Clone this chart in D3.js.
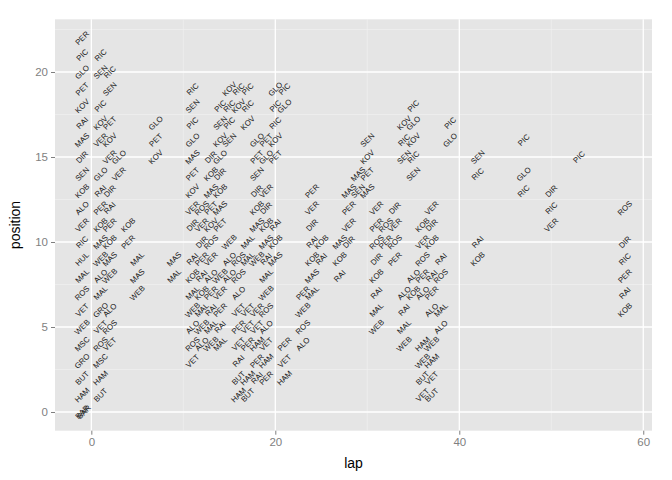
<!DOCTYPE html>
<html><head><meta charset="utf-8">
<script src="https://cdn.jsdelivr.net/npm/d3@7"></script>
<style>body{margin:0;background:#fff}svg{display:block}</style>
</head><body><svg id="c" width="672" height="480"></svg>
<script>
// driver code, lap, position
const driver = [
 "PER","PIC","GLO","PET","KOV","RAI","MAS","DIR","SEN","KOB","ALO","VER","RIC","HUL","MAL","ROS","VET","WEB","MSC","GRO","BUT","HAM","BAR","BAR",
 "RIC","SEN","PIC","KOV","VER","GLO","RAI","PER","KOB","MAS","WEB","ALO","MAL","GRO","VET","ROS","MSC","HAM","BUT",
 "RIC","SEN","PET","KOV","VER","DIR","RAI","PER","KOB","MAS","WEB","ALO","ROS","VET",
 "GLO","VER","KOB","PER","MAL","MAS","WEB","GLO","PET","KOV","MAS","MAL",
 "RIC","SEN","PIC","GLO","MAS","PET","KOV","VER","DIR","RAI","KOB","MAL","WEB","ALO","ROS","VET",
 "ROS","VER","DIR","PER","RAI","KOB","MAL","WEB","ALO",
 "DIR","KOB","MAS","PET","KOV","ROS","VER","ALO","PER","RAI","MAL","WEB",
 "PIC","SEN","KOV","GLO","DIR","KOB","MAS","PET","WEB","VER","PER","RAI","MAL",
 "KOV","RIC","PIC","SEN","WEB","ALO","ALO",
 "RIC","KOV","ROS","ROS","ALO","VET","PER","VET","RAI","BUT","HAM",
 "PIC","RIC","KOV","MAL","MAL","VET","VET","PER","HAM","BUT",
 "GLO","PET","SEN","DIR","KOB","MAS","WEB","VER","VET","HAM","PER","RAI",
 "PET","GLO","VER","DIR","KOB","MAS","RAI","MAL","WEB","ROS","ALO","VET","HAM","PER",
 "GLO","PIC","RIC","KOV","PET","RAI","KOB","MAS",
 "PIC","GLO","PER","VET","HAM",
 "PER","WEB","ROS","ALO",
 "PER","VER","DIR","RAI","KOB","MAS","MAL",
 "KOB","RAI",
 "MAS","KOB","RAI",
 "MAS","PER","VER","DIR",
 "MAS","SEN",
 "SEN","KOV","PET","MAS",
 "VER","PER","ROS","DIR","KOB","RAI","MAL","WEB",
 "ROS","PER",
 "DIR","VER","ROS","PER",
 "KOV","RIC","SEN","ALO","RAI","MAL","WEB",
 "PIC","GLO","KOV","RIC","SEN","ALO","KOB",
 "KOB","VER","ROS","PER","ALO","HAM","WEB","BUT","VET",
 "VER","DIR","KOB","RAI","PER","ALO","WEB","HAM","VET","BUT",
 "RAI","ROS","MAL","ALO",
 "PIC","GLO",
 "SEN","RIC","RAI","KOB",
 "PIC","GLO","RIC",
 "DIR","RIC","VER",
 "PIC",
 "ROS","DIR","RIC","PER","RAI","KOB"
];
const lap = [
 -1,-1,-1,-1,-1,-1,-1,-1,-1,-1,-1,-1,-1,-1,-1,-1,-1,-1,-1,-1,-1,-1,-1,-0.8,
 1,1,1,1,1,1,1,1,1,1,1,1,1,1,1,1,1,1,1,
 2,2,2,2,2,2,2,2,2,2,2,2,2,2,
 3,3,4,4,5,5,5,7,7,7,9,9,
 11,11,11,11,11,11,11,11,11,11,11,11,11,11,11,11,
 12,12,12,12,12,12,12,12,12,
 13,13,13,13,13,13,13,13,13,13,13,13,
 14,14,14,14,14,14,14,14,14,14,14,14,14,
 15,15,15,15,15,15,15,
 16,16,16,16,16,16,16,16,16,16,16,
 17,17,17,17,17,17,17,17,17,17,
 18,18,18,18,18,18,18,18,18,18,18,18,
 19,19,19,19,19,19,19,19,19,19,19,19,19,19,
 20,20,20,20,20,20,20,20,
 21,21,21,21,21,
 23,23,23,23,
 24,24,24,24,24,24,24,
 25,25,
 27,27,27,
 28,28,28,28,
 29,29,
 30,30,30,30,
 31,31,31,31,31,31,31,31,
 32,32,
 33,33,33,33,
 34,34,34,34,34,34,34,
 35,35,35,35,35,35,35,
 36,36,36,36,36,36,36,36,36,
 37,37,37,37,37,37,37,37,37,37,
 38,38,38,38,
 39,39,
 42,42,42,42,
 47,47,47,
 50,50,50,
 53,
 58,58,58,58,58,58
];
const position = [
 22,21,20,19,18,17,16,15,14,13,12,11,10,9,8,7,6,5,4,3,2,1,0,0,
 21,20,18,17,16,14,13,12,11,10,9,8,7,6,5,4,3,2,1,
 20,19,17,16,15,13,12,11,10,9,8,6,5,4,
 15,14,11,10,9,8,7,17,16,15,9,8,
 19,18,17,16,15,14,13,12,11,9,8,7,6,5,4,3,
 12,11,10,9,8,7,6,5,4,
 15,14,13,12,11,10,9,8,7,6,5,4,
 18,17,16,15,14,13,12,11,8,7,6,5,4,
 19,18,17,16,10,9,8,
 19,18,9,8,7,6,5,4,3,2,1,
 19,18,17,10,9,6,5,4,2,1,
 16,15,14,13,12,11,9,6,5,4,3,2,
 16,15,13,12,11,10,9,8,7,6,5,4,3,2,
 19,18,17,16,15,11,10,9,
 19,18,4,3,2,
 7,6,5,4,
 13,12,11,10,9,8,7,
 10,9,
 10,9,8,
 13,12,11,10,
 14,13,
 16,15,14,13,
 12,11,10,9,8,7,6,5,
 11,10,
 12,11,10,9,
 17,16,15,7,6,5,4,
 18,17,16,15,14,8,7,
 11,10,9,8,7,4,3,2,1,
 12,11,10,8,7,6,4,3,2,1,
 9,8,6,5,
 17,16,
 15,14,10,9,
 16,14,13,
 13,12,11,
 15,
 12,10,9,8,7,6
];
const xTicks = [0, 20, 40, 60];
const yTicks = [0, 5, 10, 15, 20];
const xMinor = [10, 30, 50];
const yMinor = [2.5, 7.5, 12.5, 17.5, 22.5];

const svg = d3.select("#c");
const L = 55, R = 652, T = 19.3, B = 430.7;
const x = d3.scaleLinear().domain([-3.95, 60.95]).range([L, R]);
const y = d3.scaleLinear().domain([-1.1, 23.1]).range([B, T]);

svg.append("rect").attr("x", L).attr("y", T).attr("width", R - L).attr("height", B - T).attr("fill", "#E5E5E5");
const g = svg.append("g");
g.selectAll(".vm").data(xMinor).join("line").attr("x1", d => x(d)).attr("x2", d => x(d)).attr("y1", T).attr("y2", B).attr("stroke", "#F2F2F2").attr("stroke-width", 0.6);
g.selectAll(".hm").data(yMinor).join("line").attr("y1", d => y(d)).attr("y2", d => y(d)).attr("x1", L).attr("x2", R).attr("stroke", "#F2F2F2").attr("stroke-width", 0.6);
g.selectAll(".vM").data(xTicks).join("line").attr("x1", d => x(d)).attr("x2", d => x(d)).attr("y1", T).attr("y2", B).attr("stroke", "#fff").attr("stroke-width", 1.3);
g.selectAll(".hM").data(yTicks).join("line").attr("y1", d => y(d)).attr("y2", d => y(d)).attr("x1", L).attr("x2", R).attr("stroke", "#fff").attr("stroke-width", 1.3);

const xAxis = d3.axisBottom(x).tickValues(xTicks).tickSize(4).tickPadding(3);
const yAxis = d3.axisLeft(y).tickValues(yTicks).tickSize(4).tickPadding(3);
const ax = svg.append("g").attr("transform", `translate(0,${B})`).call(xAxis);
const ay = svg.append("g").attr("transform", `translate(${L},0)`).call(yAxis);
[ax, ay].forEach(a => {
  a.select(".domain").remove();
  a.selectAll(".tick line").attr("stroke", "#7F7F7F");
  a.selectAll(".tick text").attr("fill", "#7F7F7F").style("font-family", "Liberation Sans, Arial, sans-serif").style("font-size", "11.5px");
});

const data = driver.map((d, i) => ({ d, lap: lap[i], pos: position[i] }));
svg.append("g").selectAll("text").data(data).join("text")
  .attr("transform", d => `translate(${x(d.lap)},${y(d.pos)}) rotate(-45)`)
  .attr("text-anchor", "middle").attr("dy", "0.35em")
  .style("font-family", "Liberation Sans, Arial, sans-serif").style("font-size", "7.8px")
  .attr("fill", "#1a1a1a").text(d => d.d);

svg.append("text").attr("x", (L + R) / 2).attr("y", 468).attr("text-anchor", "middle")
  .style("font-family", "Liberation Sans, Arial, sans-serif").style("font-size", "14px").text("lap");
svg.append("text").attr("transform", `translate(20,${(T + B) / 2}) rotate(-90)`).attr("text-anchor", "middle")
  .style("font-family", "Liberation Sans, Arial, sans-serif").style("font-size", "14px").text("position");
</script></body></html>
